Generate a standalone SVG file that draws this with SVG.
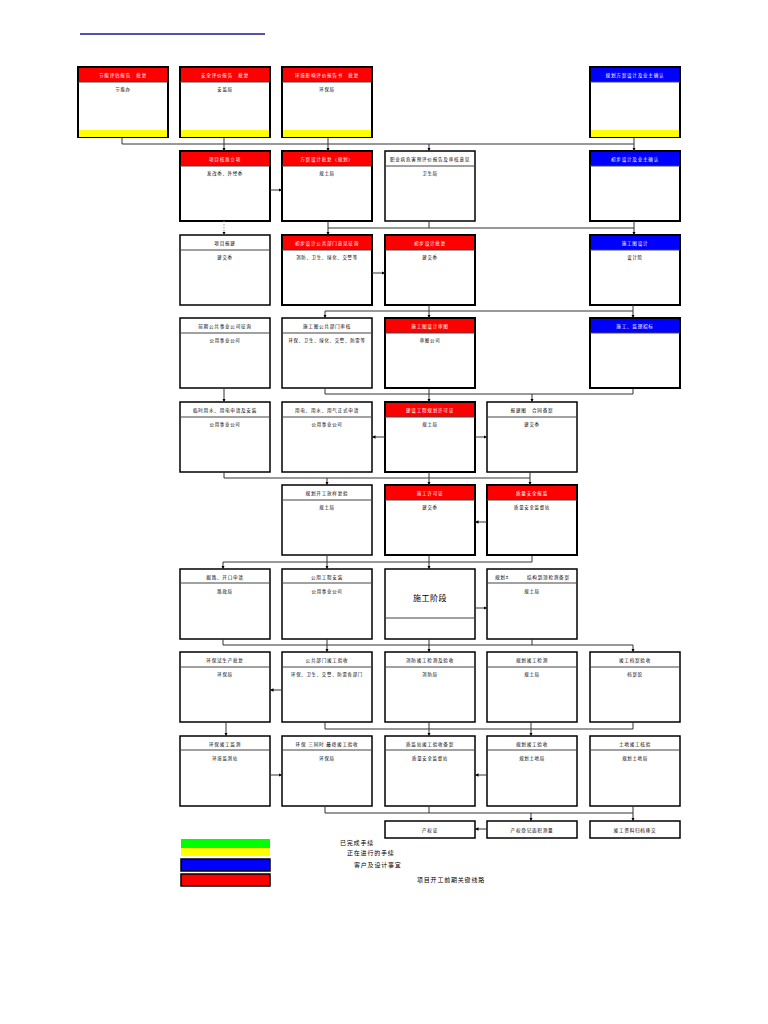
<svg xmlns="http://www.w3.org/2000/svg" width="768" height="1024" viewBox="0 0 768 1024">
<style>
text{font-family:"Liberation Sans","Noto Sans CJK SC",sans-serif;}
.box{fill:#fff;stroke:#000;stroke-width:1.5;}
.box2{fill:#fff;stroke:#000;stroke-width:2;}
.hr{fill:#ff0000;}
.hb{fill:#0000ff;}
.sep{stroke:#444;stroke-width:1.2;}
.h{font-size:4.6px;letter-spacing:0.75px;text-anchor:middle;fill:#000;}
.hw{font-size:4.6px;letter-spacing:0.75px;text-anchor:middle;fill:#fff;}
.hs{font-size:4.6px;letter-spacing:0.75px;text-anchor:start;fill:#000;}
.b{font-size:4.4px;letter-spacing:0.75px;text-anchor:middle;fill:#000;}
.c{fill:none;stroke:#333;stroke-width:1;}
.a{fill:none;stroke:#333;stroke-width:1;marker-end:url(#arr);}
.lg{font-size:6px;letter-spacing:0.8px;fill:#000;}
</style>
<defs>
<marker id="arr" viewBox="0 0 6 6" refX="6" refY="3" markerWidth="3.5" markerHeight="3.5" markerUnits="userSpaceOnUse" orient="auto">
<path d="M0,0 L6,3 L0,6 z" fill="#000"/>
</marker>
</defs>
<rect width="768" height="1024" fill="#fff"/>
<line x1="80" y1="34" x2="265" y2="34" stroke="#1a1a8c" stroke-width="1.5"/>

<!-- Row 1 -->
<g id="n-r1-0"><rect class="box2" x="78" y="67" width="90" height="70"/><rect class="hr" x="79" y="68" width="88" height="14"/><line class="sep" x1="78" y1="82" x2="168" y2="82"/><rect x="79" y="130" width="88" height="7" fill="#ffff00"/><text class="hw" x="123" y="77">节能评估报告　批复</text><text class="b" x="123" y="91">节能办</text></g>
<g id="n-r1-a"><rect class="box2" x="180" y="67" width="90" height="70"/><rect class="hr" x="181" y="68" width="88" height="14"/><line class="sep" x1="180" y1="82" x2="270" y2="82"/><rect x="181" y="130" width="88" height="7" fill="#ffff00"/><text class="hw" x="225" y="77">安全评价报告　批复</text><text class="b" x="225" y="91">安监局</text></g>
<g id="n-r1-b"><rect class="box2" x="282" y="67" width="90" height="70"/><rect class="hr" x="283" y="68" width="88" height="14"/><line class="sep" x1="282" y1="82" x2="372" y2="82"/><rect x="283" y="130" width="88" height="7" fill="#ffff00"/><text class="hw" x="327" y="77">环境影响评价报告书　批复</text><text class="b" x="327" y="91">环保局</text></g>
<g id="n-r1-e"><rect class="box2" x="590" y="67" width="90" height="70"/><rect class="hb" x="591" y="68" width="88" height="14"/><line class="sep" x1="590" y1="82" x2="680" y2="82"/><rect x="591" y="130" width="88" height="7" fill="#ffff00"/><text class="hw" x="635" y="77">规划方案设计及业主确认</text></g>

<!-- Row 2 -->
<g id="n-r2-a"><rect class="box2" x="180" y="151" width="90" height="70"/><rect class="hr" x="181" y="152" width="88" height="14"/><line class="sep" x1="180" y1="166" x2="270" y2="166"/><text class="hw" x="225" y="161">项目核准立项</text><text class="b" x="225" y="175">发改委、外经委</text></g>
<g id="n-r2-b"><rect class="box2" x="282" y="151" width="90" height="70"/><rect class="hr" x="283" y="152" width="88" height="14"/><line class="sep" x1="282" y1="166" x2="372" y2="166"/><text class="hw" x="327" y="161">方案设计批复（规划）</text><text class="b" x="327" y="175">规土局</text></g>
<g id="n-r2-c"><rect class="box" x="385" y="151" width="90" height="70"/><line class="sep" x1="385" y1="166" x2="475" y2="166"/><text class="h" x="430" y="161">职业病危害预评价报告及审核意见</text><text class="b" x="430" y="175">卫生局</text></g>
<g id="n-r2-e"><rect class="box2" x="590" y="151" width="90" height="70"/><rect class="hb" x="591" y="152" width="88" height="14"/><line class="sep" x1="590" y1="166" x2="680" y2="166"/><text class="hw" x="635" y="161">初步设计及业主确认</text></g>

<!-- Row 3 -->
<g id="n-r3-a"><rect class="box" x="180" y="235" width="90" height="70"/><line class="sep" x1="180" y1="250" x2="270" y2="250"/><text class="h" x="225" y="245">项目报建</text><text class="b" x="225" y="259">建交委</text></g>
<g id="n-r3-b"><rect class="box2" x="282" y="235" width="90" height="70"/><rect class="hr" x="283" y="236" width="88" height="14"/><line class="sep" x1="282" y1="250" x2="372" y2="250"/><text class="hw" x="327" y="245">初步设计公共部门意见征询</text><text class="b" x="327" y="259">消防、卫生、绿化、交警等</text></g>
<g id="n-r3-c"><rect class="box2" x="385" y="235" width="90" height="70"/><rect class="hr" x="386" y="236" width="88" height="14"/><line class="sep" x1="385" y1="250" x2="475" y2="250"/><text class="hw" x="430" y="245">初步设计批复</text><text class="b" x="430" y="259">建交委</text></g>
<g id="n-r3-e"><rect class="box2" x="590" y="235" width="90" height="70"/><rect class="hb" x="591" y="236" width="88" height="14"/><line class="sep" x1="590" y1="250" x2="680" y2="250"/><text class="hw" x="635" y="245">施工图设计</text><text class="b" x="635" y="259">设计院</text></g>

<!-- Row 4 -->
<g id="n-r4-a"><rect class="box" x="180" y="318" width="90" height="70"/><line class="sep" x1="180" y1="333" x2="270" y2="333"/><text class="h" x="225" y="328">前期公共事业公司征询</text><text class="b" x="225" y="342">公用事业公司</text></g>
<g id="n-r4-b"><rect class="box" x="282" y="318" width="90" height="70"/><line class="sep" x1="282" y1="333" x2="372" y2="333"/><text class="h" x="327" y="328">施工图公共部门审核</text><text class="b" x="327" y="342">环保、卫生、绿化、交警、防雷等</text></g>
<g id="n-r4-c"><rect class="box2" x="385" y="318" width="90" height="70"/><rect class="hr" x="386" y="319" width="88" height="14"/><line class="sep" x1="385" y1="333" x2="475" y2="333"/><text class="hw" x="430" y="328">施工图设计审图</text><text class="b" x="430" y="342">审图公司</text></g>
<g id="n-r4-e"><rect class="box2" x="590" y="318" width="90" height="70"/><rect class="hb" x="591" y="319" width="88" height="14"/><line class="sep" x1="590" y1="333" x2="680" y2="333"/><text class="hw" x="635" y="328">施工、监理招标</text></g>

<!-- Row 5 -->
<g id="n-r5-a"><rect class="box" x="180" y="402" width="90" height="70"/><line class="sep" x1="180" y1="417" x2="270" y2="417"/><text class="h" x="225" y="412">临时用水、用电申请及安装</text><text class="b" x="225" y="426">公用事业公司</text></g>
<g id="n-r5-b"><rect class="box" x="282" y="402" width="90" height="70"/><line class="sep" x1="282" y1="417" x2="372" y2="417"/><text class="h" x="327" y="412">用电、用水、用气正式申请</text><text class="b" x="327" y="426">公用事业公司</text></g>
<g id="n-r5-c"><rect class="box2" x="385" y="402" width="90" height="70"/><rect class="hr" x="386" y="403" width="88" height="14"/><line class="sep" x1="385" y1="417" x2="475" y2="417"/><text class="hw" x="430" y="412">建设工程规划许可证</text><text class="b" x="430" y="426">规土局</text></g>
<g id="n-r5-d"><rect class="box" x="487" y="402" width="90" height="70"/><line class="sep" x1="487" y1="417" x2="577" y2="417"/><text class="h" x="532" y="412">报建图　合同备案</text><text class="b" x="532" y="426">建交委</text></g>

<!-- Row 6 -->
<g id="n-r6-b"><rect class="box" x="282" y="485" width="90" height="70"/><line class="sep" x1="282" y1="500" x2="372" y2="500"/><text class="h" x="327" y="495">规划开工放样复验</text><text class="b" x="327" y="509">规土局</text></g>
<g id="n-r6-c"><rect class="box2" x="385" y="485" width="90" height="70"/><rect class="hr" x="386" y="486" width="88" height="14"/><line class="sep" x1="385" y1="500" x2="475" y2="500"/><text class="hw" x="430" y="495">施工许可证</text><text class="b" x="430" y="509">建交委</text></g>
<g id="n-r6-d"><rect class="box2" x="487" y="485" width="90" height="70"/><rect class="hr" x="488" y="486" width="88" height="14"/><line class="sep" x1="487" y1="500" x2="577" y2="500"/><text class="hw" x="532" y="495">质量安全报监</text><text class="b" x="532" y="509">质量安全监督站</text></g>

<!-- Row 7 -->
<g id="n-r7-a"><rect class="box" x="180" y="569" width="90" height="70"/><line class="sep" x1="180" y1="583" x2="270" y2="583"/><text class="h" x="225" y="579">掘路、开口申请</text><text class="b" x="225" y="593">路政局</text></g>
<g id="n-r7-b"><rect class="box" x="282" y="569" width="90" height="70"/><line class="sep" x1="282" y1="583" x2="372" y2="583"/><text class="h" x="327" y="579">公用工程安装</text><text class="b" x="327" y="593">公用事业公司</text></g>
<g id="n-r7-c"><rect class="box" x="385" y="569" width="90" height="70"/><line class="sep" x1="385" y1="618" x2="475" y2="618"/><text x="430" y="601" font-size="8" text-anchor="middle" letter-spacing="0.5">施工阶段</text></g>
<g id="n-r7-d"><rect class="box" x="487" y="569" width="90" height="70"/><line class="sep" x1="487" y1="583" x2="577" y2="583"/><text class="hs" x="495" y="579">规划±</text><text class="hs" x="527" y="579">结构到顶检测备案</text><text class="b" x="532" y="593">规土局</text></g>

<!-- Row 8 -->
<g id="n-r8-a"><rect class="box" x="180" y="652" width="90" height="70"/><line class="sep" x1="180" y1="667" x2="270" y2="667"/><text class="h" x="225" y="662">环保试生产批复</text><text class="b" x="225" y="676">环保局</text></g>
<g id="n-r8-b"><rect class="box" x="282" y="652" width="90" height="70"/><line class="sep" x1="282" y1="667" x2="372" y2="667"/><text class="h" x="327" y="662">公共部门竣工验收</text><text class="b" x="327" y="676">环保、卫生、交警、防雷各部门</text></g>
<g id="n-r8-c"><rect class="box" x="385" y="652" width="90" height="70"/><line class="sep" x1="385" y1="667" x2="475" y2="667"/><text class="h" x="430" y="662">消防竣工检测及验收</text><text class="b" x="430" y="676">消防局</text></g>
<g id="n-r8-d"><rect class="box" x="487" y="652" width="90" height="70"/><line class="sep" x1="487" y1="667" x2="577" y2="667"/><text class="h" x="532" y="662">规划竣工检测</text><text class="b" x="532" y="676">规土局</text></g>
<g id="n-r8-e"><rect class="box" x="590" y="652" width="90" height="70"/><line class="sep" x1="590" y1="667" x2="680" y2="667"/><text class="h" x="635" y="662">竣工档案验收</text><text class="b" x="635" y="676">档案馆</text></g>

<!-- Row 9 -->
<g id="n-r9-a"><rect class="box" x="180" y="736" width="90" height="70"/><line class="sep" x1="180" y1="750" x2="270" y2="750"/><text class="h" x="225" y="746">环保竣工监测</text><text class="b" x="225" y="760">环境监测站</text></g>
<g id="n-r9-b"><rect class="box" x="282" y="736" width="90" height="70"/><line class="sep" x1="282" y1="750" x2="372" y2="750"/><text class="h" x="327" y="746">环保 三同时 最终竣工验收</text><text class="b" x="327" y="760">环保局</text></g>
<g id="n-r9-c"><rect class="box" x="385" y="736" width="90" height="70"/><line class="sep" x1="385" y1="750" x2="475" y2="750"/><text class="h" x="430" y="746">质监站竣工验收备案</text><text class="b" x="430" y="760">质量安全监督站</text></g>
<g id="n-r9-d"><rect class="box" x="487" y="736" width="90" height="70"/><line class="sep" x1="487" y1="750" x2="577" y2="750"/><text class="h" x="532" y="746">规划竣工验收</text><text class="b" x="532" y="760">规划土地局</text></g>
<g id="n-r9-e"><rect class="box" x="590" y="736" width="90" height="70"/><line class="sep" x1="590" y1="750" x2="680" y2="750"/><text class="h" x="635" y="746">土地竣工核验</text><text class="b" x="635" y="760">规划土地局</text></g>

<!-- Row 10 -->
<g id="n-r10-c"><rect class="box" x="385" y="821" width="90" height="17"/><text class="h" x="430" y="831.5">产权证</text></g>
<g id="n-r10-d"><rect class="box" x="487" y="821" width="90" height="17"/><text class="h" x="532" y="831.5">产权登记面积测量</text></g>
<g id="n-r10-e"><rect class="box" x="590" y="821" width="90" height="17"/><text class="h" x="635" y="831.5">竣工资料归档移交</text></g>

<!-- Connectors -->
<g id="connectors">
<path class="c" d="M122 138 V144 H634"/>
<path class="a" d="M224 138 V151"/>
<path class="a" d="M328 138 V151"/>
<path class="a" d="M429 144 V151"/>
<path class="a" d="M634 138 V151"/>
<path class="a" d="M270 190 H282"/>
<path class="a" d="M224 221 V235" stroke-dasharray="1.5 1.5" style="stroke:#999"/>
<path class="a" d="M328 221 V235"/>
<path class="c" d="M328 228 H634"/>
<path class="c" d="M429 221 V228"/>
<path class="a" d="M634 221 V235"/>
<path class="a" d="M372 273 H385"/>
<path class="c" d="M325 311 H633"/>
<path class="a" d="M429 305 V318"/>
<path class="a" d="M633 305 V318"/>
<path class="a" d="M325 311 V318"/>
<path class="a" d="M224 389 V402"/>
<path class="c" d="M325 389 V394 H633"/>
<path class="a" d="M429 389 V402"/>
<path class="c" d="M633 389 V394"/>
<path class="a" d="M532 394 V402"/>
<path class="a" d="M385 437 H372"/>
<path class="a" d="M475 437 H487"/>
<path class="c" d="M224 472 V478 H530"/>
<path class="a" d="M327 478 V485"/>
<path class="a" d="M429 472 V485"/>
<path class="a" d="M530 472 V485"/>
<path class="a" d="M487 522 H475"/>
<path class="c" d="M223 562 H532"/>
<path class="a" d="M223 562 V569"/>
<path class="a" d="M327 556 V569"/>
<path class="a" d="M429 556 V569"/>
<path class="c" d="M532 556 V562"/>
<path class="a" d="M475 608 H487"/>
<path class="c" d="M223 639 V645 H633"/>
<path class="a" d="M327 639 V652"/>
<path class="a" d="M429 639 V652"/>
<path class="c" d="M532 639 V645"/>
<path class="a" d="M633 645 V652"/>
<path class="a" d="M282 690 H270"/>
<path class="a" d="M226 722 V736"/>
<path class="c" d="M325 722 V729 H633"/>
<path class="a" d="M429 722 V736"/>
<path class="a" d="M531 722 V736"/>
<path class="c" d="M633 722 V729"/>
<path class="a" d="M270 775 H282"/>
<path class="a" d="M487 775 H475"/>
<path class="c" d="M325 806 V813 H633"/>
<path class="c" d="M429 806 V813"/>
<path class="a" d="M531 813 V821"/>
<path class="a" d="M633 806 V821"/>
<path class="a" d="M487 829 H475"/>
</g>

<!-- Legend -->
<g id="legend">
<rect x="181" y="839" width="89" height="9" fill="#00ff00"/>
<rect x="181" y="848" width="89" height="8" fill="#ffff00"/>
<rect x="181" y="859" width="89" height="12" fill="#0000ff" stroke="#000" stroke-width="1.5"/>
<rect x="181" y="874" width="89" height="12" fill="#ff0000" stroke="#000" stroke-width="1.5"/>
<text class="lg" x="340" y="845">已完成手续</text>
<text class="lg" x="347" y="855">正在进行的手续</text>
<text class="lg" x="354" y="867">客户及设计事宜</text>
<text class="lg" x="417" y="882">项目开工前期关键线路</text>
</g>
</svg>
